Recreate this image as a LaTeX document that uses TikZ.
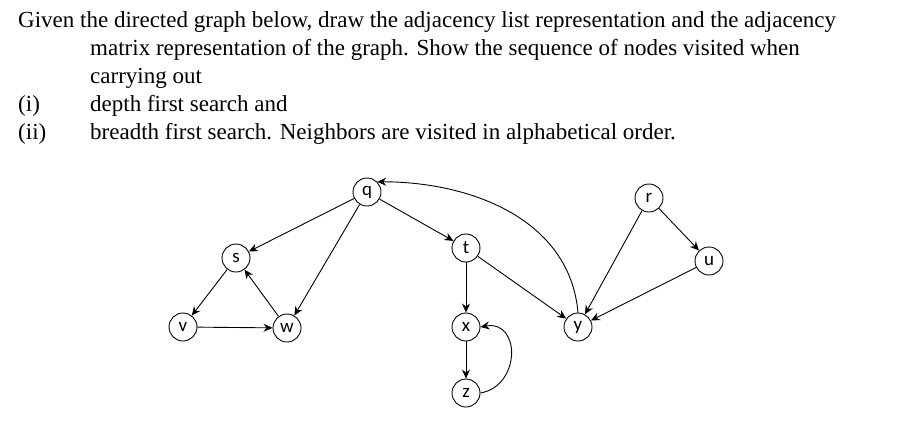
\documentclass[tikz,border=0pt]{standalone}
\usepackage{fontspec}
\usetikzlibrary{arrows.meta}
\setmainfont{Liberation Serif}
\newfontfamily\calfont{Carlito}
\begin{document}
\begin{tikzpicture}[x=1pt,y=-1pt,
  vtx/.style={circle,draw,line width=0.9pt,minimum size=28pt,inner sep=0pt,font=\calfont\fontsize{19}{19}\selectfont},
  ed/.style={-{Stealth[length=9pt,width=8pt,inset=3pt]},line width=0.9pt},
  txt/.style={anchor=base west,inner sep=0pt,font=\fontsize{23}{26}\selectfont}]
\useasboundingbox (0,0) rectangle (916,426);
\node[txt,text width=864pt,align=justify] (l1) at (18,27) {Given the directed graph below, draw the adjacency list representation and the adjacency\parfillskip=0pt};
\node[txt,text width=792pt,align=justify] (l2) at (90,55) {matrix representation of the graph. Show the sequence of nodes visited when\parfillskip=0pt};
\node[txt] (l3) at (90,83) {carrying out};
\node[txt] (i1) at (18,111) {(i)};
\node[txt] (l4) at (90,111) {depth first search and};
\node[txt] (i2) at (18,139) {(ii)};
\node[txt] (l5) at (90,139) {breadth first search. Neighbors are visited in alphabetical order.};
\node[vtx] (q) at (367,192) {q};
\node[vtx] (s) at (236,258) {s};
\node[vtx] (v) at (183,327) {v};
\node[vtx] (w) at (287,328) {w};
\node[vtx] (t) at (466,248) {t};
\node[vtx] (x) at (466,327) {x};
\node[vtx] (z) at (466,393) {z};
\node[vtx] (y) at (578,327) {y};
\node[vtx] (r) at (649,198) {r};
\node[vtx] (u) at (709,261) {u};
\draw[ed] (q) -- (s);
\draw[ed] (q) -- (w);
\draw[ed] (q) -- (t);
\draw[ed] (s) -- (v);
\draw[ed] (v) -- (w);
\draw[ed] (w) -- (s);
\draw[ed] (t) -- (x);
\draw[ed] (t) -- (y);
\draw[ed] (x) -- (z);
\draw[ed] (z.east) to[out=10,in=10,looseness=1.6] (x.east);
\draw[ed] (y.north) to[out=95,in=0] (q.north east);
\draw[ed] (r) -- (y);
\draw[ed] (r) -- (u);
\draw[ed] (u) -- (y);
\end{tikzpicture}
\end{document}
